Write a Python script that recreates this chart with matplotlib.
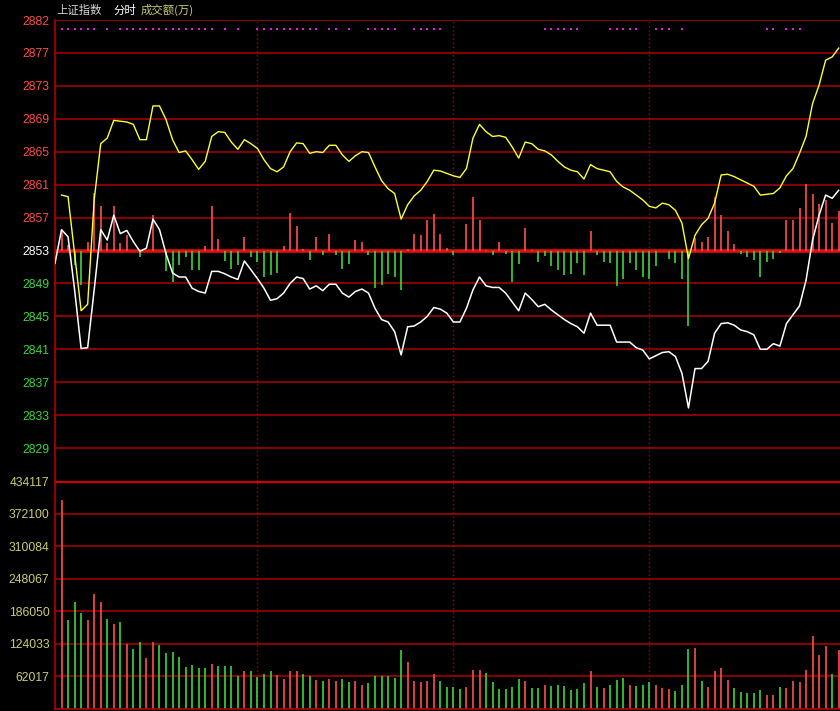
import numpy as np
import matplotlib.pyplot as plt

# 上证指数 分时图, 每根柱 2 分钟 (0 = 9:30, 120 = 15:00)
pre_close = 2853.0
step = 4.1

price = [2851.4, 2855.6, 2854.7, 2848.1, 2840.8, 2840.9, 2848.1, 2855.6, 2854.3, 2857.4,
         2855.1, 2855.5, 2854.1, 2852.9, 2853.3, 2856.9, 2855.6, 2852.6, 2850.2, 2849.7,
         2849.7, 2848.3, 2847.9, 2847.7, 2850.4, 2850.4, 2850.1, 2849.7, 2849.4, 2851.7,
         2850.6, 2849.5, 2848.3, 2846.8, 2847.0, 2847.7, 2848.9, 2849.7, 2849.5, 2848.2,
         2848.6, 2848.0, 2848.8, 2848.8, 2847.7, 2847.2, 2847.9, 2848.2, 2847.7, 2845.8,
         2844.4, 2844.1, 2842.9, 2840.0, 2843.5, 2843.6, 2844.1, 2844.8, 2845.9, 2845.7,
         2845.2, 2844.1, 2844.1, 2845.8, 2848.1, 2849.7, 2848.6, 2848.4, 2848.4, 2847.7,
         2846.6, 2845.5, 2847.7, 2846.9, 2846.0, 2846.3, 2845.6, 2845.0, 2844.4, 2843.9,
         2843.5, 2842.7, 2845.2, 2843.7, 2843.7, 2843.7, 2841.6, 2841.6, 2841.6, 2840.9,
         2840.6, 2839.5, 2839.9, 2840.3, 2840.4, 2839.8, 2837.7, 2833.4, 2838.3, 2838.3,
         2839.2, 2842.7, 2843.9, 2844.0, 2843.7, 2843.1, 2842.9, 2842.5, 2840.7, 2840.7,
         2841.4, 2841.1, 2843.9, 2845.0, 2846.1, 2849.3, 2854.3, 2857.4, 2859.9, 2859.5,
         2860.5]

# 领先指标 (黄线), 从第 1 根开始
lead = [2859.9, 2859.7, 2852.6, 2845.5, 2846.3, 2859.3, 2866.3, 2867.0, 2869.2, 2869.1,
        2869.0, 2868.7, 2866.8, 2866.8, 2871.0, 2871.0, 2869.3, 2866.8, 2865.2, 2865.4,
        2864.3, 2863.1, 2864.1, 2867.2, 2867.8, 2867.7, 2866.5, 2865.6, 2866.8, 2866.3,
        2865.7, 2864.3, 2863.2, 2862.8, 2863.4, 2865.3, 2866.4, 2866.3, 2865.1, 2865.3,
        2865.2, 2866.1, 2866.1, 2864.9, 2864.1, 2864.8, 2865.3, 2865.2, 2863.4, 2861.7,
        2860.7, 2860.1, 2856.9, 2858.7, 2859.8, 2860.5, 2861.6, 2863.0, 2862.9, 2862.6,
        2862.3, 2862.1, 2863.2, 2867.0, 2868.7, 2867.8, 2867.2, 2867.3, 2867.1, 2865.9,
        2864.5, 2866.5, 2866.3, 2865.6, 2865.4, 2864.9, 2864.1, 2863.4, 2863.0, 2862.8,
        2861.9, 2863.7, 2863.2, 2863.0, 2862.8, 2861.6, 2860.9, 2860.5, 2859.9, 2859.3,
        2858.5, 2858.3, 2858.9, 2858.7, 2858.0, 2856.4, 2852.0, 2854.9, 2856.2, 2857.0,
        2858.9, 2862.4, 2862.5, 2862.2, 2861.8, 2861.4, 2861.0, 2859.9, 2860.0, 2860.1,
        2860.8, 2862.3, 2863.2, 2865.1, 2867.2, 2871.3, 2873.6, 2876.7, 2877.1, 2878.2]

# 买卖力道 红绿柱 (相对昨收)
strength = [2.58, 0.71, -1.78, -4.27, 1.12, 7.13, 5.48, 0.91, 5.48, 0.91,
            1.95, 0, -0.75, 0, 4.44, 0, -2.61, -3.86, -1.78, -0.75,
            -2.40, -2.40, 0.50, 5.48, 1.41, -1.25, -2.33, -1.78, 1.74, -0.83,
            -1.49, -3.24, -3.03, -2.83, 0.50, 4.73, 3.08, 0.21, -1.16, 1.66,
            -0.54, 2.03, -0.50, -2.33, -1.66, 1.33, 1.03, -0.50, -4.69, -4.27,
            -2.90, -3.24, -4.98, 0.21, 2.08, 1.87, 3.82, 4.52, 2.08, 0.37,
            -0.54, 0, 3.32, 6.64, 3.82, 0.09, -0.54, 1.12, -0.41, -3.95,
            -1.66, 2.78, 0.09, -1.41, -0.66, -1.99, -2.49, -3.03, -2.95, -1.58,
            -3.11, 2.37, -0.54, -1.49, -1.58, -4.36, -3.57, -1.58, -2.40, -3.24,
            -3.57, -1.99, 0, -1.03, -1.58, -3.57, -9.46, 1.53, 1.12, 1.66,
            6.72, 4.44, 2.49, 0.83, -0.41, -0.75, -1.16, -3.32, -1.37, -1.03,
            -0.25, 3.82, 3.82, 5.27, 8.30, 7.06, 5.81, 6.31, 3.40, 4.86]

# 成交额 (万)
volume = [398500, 170000, 203000, 182800, 170000, 219500, 203000, 171900, 162400, 165600,
          123800, 114200, 127600, 97100, 127600, 122400, 106600, 108500, 99000, 80000,
          83800, 78100, 78100, 86300, 82400, 82400, 82400, 63400, 73000, 73000,
          60900, 67200, 73000, 64100, 57700, 71600, 72900, 67200, 63400, 55800,
          53900, 57700, 52600, 57700, 50700, 53900, 46300, 49500, 63400, 63400,
          63400, 58300, 112900, 88700, 53900, 50700, 52600, 67200, 53900, 41100,
          41700, 38700, 41700, 74800, 74800, 68500, 50700, 38700, 38700, 41700,
          57700, 53900, 40000, 40000, 46300, 44400, 46300, 44400, 36700, 38700,
          49500, 71600, 41700, 40000, 46300, 55800, 59000, 46300, 44400, 46300,
          51400, 46300, 40000, 38100, 33500, 46300, 114200, 116100, 52600, 41700,
          71600, 78100, 55800, 40000, 32400, 30500, 30500, 36700, 27200, 27200,
          41700, 40000, 53900, 50700, 74800, 139600, 103400, 119200, 67200, 111600]
vol_dir = ("rgggrrrgrg" "rggrrggggg" "gggrggggrg" "gggrrrrggr" "grrggrrggg"
           "gggrrrrrgg" "ggrrrggggg" "grggrggggg" "grgrgggrgg" "grrrgggrgr"
           "rrrgggggrr" "grrrrrrrgr")

# 顶部紫色信号点
signal_t = [1, 2, 3, 4, 5, 6, 8, 10, 11, 12, 13, 14, 15, 16, 17, 18, 19, 20, 21, 22, 23, 24,
            26, 28, 31, 32, 33, 34, 35, 36, 37, 38, 39, 40, 42, 43, 45, 48, 49, 50, 51, 52,
            55, 56, 57, 58, 59, 75, 76, 77, 78, 79, 80, 85, 86, 87, 88, 89, 92, 93, 94, 96,
            109, 110, 112, 113, 114]

price_labels = ['2829', '2833', '2837', '2841', '2845', '2849', '2853',
                '2857', '2861', '2865', '2869', '2873', '2877', '2882']
vol_max = 434117
vol_labels = ['62017', '124033', '186050', '248067', '310084', '372100', '434117']

RED = '#ff4c4c'
GREEN = '#3ad63a'
GRID = '#b00000'

fig = plt.figure(figsize=(8.4, 7.11), dpi=100, facecolor='black')
ax = fig.add_axes([55 / 840, 230 / 711, 785 / 840, 461 / 711], facecolor='black')
axv = fig.add_axes([55 / 840, 2 / 711, 785 / 840, 228 / 711], facecolor='black')

t = np.arange(len(price))
tb = np.arange(1, len(volume) + 1)

# --- 价格区 ---
ax.set_xlim(0, 120.2)
ax.set_ylim(pre_close - 7 * step, pre_close + 7 * step)
levels = pre_close + step * np.arange(-6, 8)
for k, y in enumerate(levels):
    if k == 6:
        ax.axhline(y, color='#e01010', lw=2.6, zorder=1)
    else:
        ax.axhline(y, color=GRID, lw=1.1, zorder=1)
for x in [31, 61, 91]:
    ax.axvline(x, color=GRID, lw=1, ls=(0, (1, 2)), zorder=1)
    axv.axvline(x, color=GRID, lw=1, ls=(0, (1, 2)), zorder=1)

s = np.array(strength)
ax.vlines(tb, pre_close, pre_close + s, colors=[RED if v > 0 else GREEN for v in s],
          lw=1.2, zorder=2)
ax.plot(t, price, color='white', lw=1.1, zorder=4)
ax.plot(tb, lead, color='#ffff30', lw=1.0, zorder=3)
ax.scatter(signal_t, np.full(len(signal_t), 2880.6), marker='s', s=3,
           color='#e020e0', linewidths=0, zorder=5)

ax.set_yticks(levels)
ax.set_yticklabels(price_labels, fontfamily='Liberation Sans', fontsize=8.7)
for k, lab in enumerate(ax.get_yticklabels()):
    lab.set_color('white' if k == 6 else (RED if k > 6 else GREEN))
ax.tick_params(axis='y', length=0, pad=4)
ax.set_xticks([])
for side in ['top', 'bottom', 'right']:
    ax.spines[side].set_visible(False)
ax.spines['left'].set_color(GRID)
ax.spines['left'].set_linewidth(1.2)

# --- 成交额区 ---
axv.set_xlim(0, 120.2)
axv.set_ylim(0, vol_max)
vlev = vol_max / 7 * np.arange(1, 8)
for k, y in enumerate(vlev):
    axv.axhline(y, color='#d00000' if k == 6 else GRID, lw=2.4 if k == 6 else 1.1, zorder=1)
axv.vlines(tb, 0, volume, colors=[RED if c == 'r' else GREEN for c in vol_dir],
           lw=1.2, zorder=2)
axv.set_yticks(vlev)
axv.set_yticklabels(vol_labels, fontfamily='Liberation Sans', fontsize=8.7, color='#cccc70')
axv.tick_params(axis='y', length=0, pad=4)
axv.set_xticks([])
for side in ['top', 'right']:
    axv.spines[side].set_visible(False)
for side in ['left', 'bottom']:
    axv.spines[side].set_color(GRID)
    axv.spines[side].set_linewidth(1.2)

# 标题
cjk = ['Noto Sans CJK SC', 'DejaVu Sans']
fig.text(56 / 840, 1 - 10 / 711, '上证指数', color='#d8d8d8', fontsize=8.2, family=cjk, va='center')
fig.text(113 / 840, 1 - 10 / 711, '分时', color='white', fontsize=8.2, family=cjk, va='center')
fig.text(141 / 840, 1 - 10 / 711, '成交额(万)', color='#cccc70', fontsize=8.2, family=cjk, va='center')

fig.savefig('out.png', dpi=100, facecolor='black')
